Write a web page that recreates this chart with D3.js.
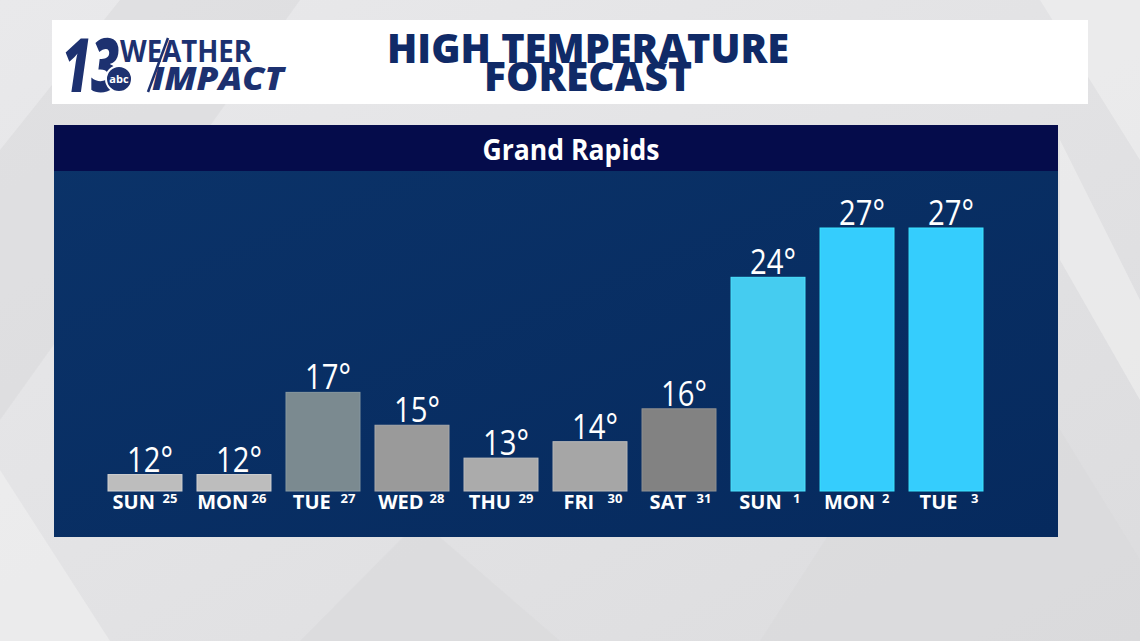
<!DOCTYPE html>
<html>
<head>
<meta charset="utf-8">
<script src="https://cdn.jsdelivr.net/npm/d3@7"></script>
<style>
  html, body { margin: 0; padding: 0; background: #e4e4e6; }
  svg { display: block; }
</style>
</head>
<body>
<script>
const days   = ["SUN", "MON", "TUE", "WED", "THU", "FRI", "SAT", "SUN", "MON", "TUE"];
const dates  = ["25", "26", "27", "28", "29", "30", "31", "1", "2", "3"];
const temps  = [12, 12, 17, 15, 13, 14, 16, 24, 27, 27];
const colors = ["#bdbdbd", "#bdbdbd", "#7b8a90", "#9a9a9a", "#ababab", "#a6a6a6", "#828282", "#45ccf0", "#35cdfd", "#35cdfd"];
const titleLines = ["HIGH TEMPERATURE", "FORECAST"];
const city = "Grand Rapids";

const W = 1140, H = 641;
const svg = d3.select("body").append("svg").attr("width", W).attr("height", H);
const defs = svg.append("defs");

// background
const bg = defs.append("linearGradient").attr("id", "bg").attr("x1", 0).attr("y1", 0).attr("x2", 1).attr("y2", 1);
bg.append("stop").attr("offset", 0).attr("stop-color", "#e9e9eb");
bg.append("stop").attr("offset", 1).attr("stop-color", "#dcdcde");
svg.append("rect").attr("width", W).attr("height", H).attr("fill", "url(#bg)");
const facets = [
  [[0,150],[120,0],[300,0],[0,420]],
  [[0,470],[110,641],[0,641]],
  [[760,641],[980,300],[1140,560],[1140,641]],
  [[1040,0],[1140,0],[1140,160]],
  [[300,641],[420,520],[560,641]],
  [[1060,140],[1140,300],[1140,400],[1060,260]]
];
svg.append("g").selectAll("path").data(facets).join("path")
  .attr("d", d => "M" + d.join("L") + "Z")
  .attr("fill", (d, i) => i % 2 ? "#f2f2f3" : "#d8d8da").attr("opacity", 0.55);

// top header box
svg.append("rect").attr("x", 52).attr("y", 20).attr("width", 1036).attr("height", 84).attr("fill", "#ffffff");

// logo
const navy = "#1d3170";
const logo = svg.append("g");
logo.append("text").attr("x", 62).attr("y", 92).attr("font-family", "Open Sans").attr("font-weight", 800)
  .attr("font-style", "italic").attr("font-size", 74).attr("fill", navy)
  .attr("textLength", 58).attr("lengthAdjust", "spacingAndGlyphs").text("13");
logo.append("circle").attr("cx", 119).attr("cy", 79).attr("r", 13).attr("fill", navy).attr("stroke", "#fff").attr("stroke-width", 2);
logo.append("text").attr("x", 119).attr("y", 83).attr("text-anchor", "middle").attr("font-family", "Open Sans")
  .attr("font-weight", 700).attr("font-size", 11).attr("fill", "#fff").text("abc");
logo.append("text").attr("x", 120).attr("y", 62).attr("font-family", "Open Sans").attr("font-weight", 700)
  .attr("font-size", 30).attr("fill", navy).attr("textLength", 132).attr("lengthAdjust", "spacingAndGlyphs").text("WEATHER");
logo.append("line").attr("x1", 168).attr("y1", 38).attr("x2", 148).attr("y2", 92).attr("stroke", navy).attr("stroke-width", 2.5);
logo.append("text").attr("x", 152).attr("y", 90).attr("font-family", "Open Sans").attr("font-weight", 800)
  .attr("font-style", "italic").attr("font-size", 32).attr("fill", navy)
  .attr("textLength", 132).attr("lengthAdjust", "spacingAndGlyphs").text("IMPACT");

// title
const titleColor = "#102a67";
const tl = [{t: titleLines[0], y: 63, w: 402}, {t: titleLines[1], y: 91, w: 208}];
svg.append("g").selectAll("text").data(tl).join("text")
  .attr("x", 588).attr("y", d => d.y).attr("text-anchor", "middle")
  .attr("font-family", "Open Sans").attr("font-weight", 800).attr("font-size", 40)
  .attr("fill", titleColor).attr("textLength", d => d.w).attr("lengthAdjust", "spacingAndGlyphs")
  .text(d => d.t);

// panel
const pg = defs.append("linearGradient").attr("id", "panel").attr("x1", 0).attr("y1", 0).attr("x2", 1).attr("y2", 1);
pg.append("stop").attr("offset", 0).attr("stop-color", "#0b3369");
pg.append("stop").attr("offset", 1).attr("stop-color", "#062a5e");
svg.append("rect").attr("x", 54).attr("y", 125).attr("width", 1004).attr("height", 412).attr("fill", "url(#panel)");
svg.append("rect").attr("x", 54).attr("y", 125).attr("width", 1004).attr("height", 46).attr("fill", "#050c4b");
svg.append("text").attr("x", 571).attr("y", 160).attr("text-anchor", "middle")
  .attr("font-family", "Open Sans").attr("font-weight", 700).attr("font-size", 28).attr("fill", "#ffffff")
  .attr("textLength", 177).attr("lengthAdjust", "spacingAndGlyphs").text(city);

// scales
const x = d3.scaleBand().domain(d3.range(days.length)).range([108, 983]).paddingInner(0.169).paddingOuter(0);
const y = d3.scaleLinear().domain([11, 27]).range([491, 228]);

const g = svg.append("g");
g.selectAll("rect.bar").data(temps).join("rect").attr("class", "bar")
  .attr("x", (d, i) => x(i)).attr("width", x.bandwidth())
  .attr("y", d => y(d)).attr("height", d => y(11) - y(d))
  .attr("fill", (d, i) => colors[i])
  .attr("stroke", (d, i) => d3.color(colors[i]).brighter(0.3)).attr("stroke-width", 1);

// value labels
g.selectAll("text.val").data(temps).join("text").attr("class", "val")
  .attr("x", (d, i) => x(i) + x.bandwidth() / 2 + 5).attr("y", d => y(d) - 3)
  .attr("text-anchor", "middle").attr("font-family", "Open Sans").attr("font-weight", 400)
  .attr("font-size", 35).attr("fill", "#ffffff")
  .attr("textLength", 46).attr("lengthAdjust", "spacingAndGlyphs")
  .text(d => d + "°");

// date labels (right-aligned near bar's right edge)
const dateSel = g.selectAll("text.date").data(dates).join("text").attr("class", "date")
  .attr("x", (d, i) => x(i) + x.bandwidth() - 4.5).attr("y", 503).attr("text-anchor", "end")
  .attr("font-family", "Open Sans").attr("font-weight", 700).attr("font-size", 13).attr("fill", "#ffffff")
  .text(d => d);
const dateW = dateSel.nodes().map(n => n.getComputedTextLength());

// day labels, centred between bar's left edge and date
g.selectAll("text.day").data(days).join("text").attr("class", "day")
  .attr("x", (d, i) => (x(i) + (x(i) + x.bandwidth() - 4.5 - dateW[i] - 3)) / 2).attr("y", 509)
  .attr("text-anchor", "middle")
  .attr("font-family", "Open Sans").attr("font-weight", 700).attr("font-size", 20).attr("fill", "#ffffff")
  .text(d => d);
</script>
</body>
</html>
